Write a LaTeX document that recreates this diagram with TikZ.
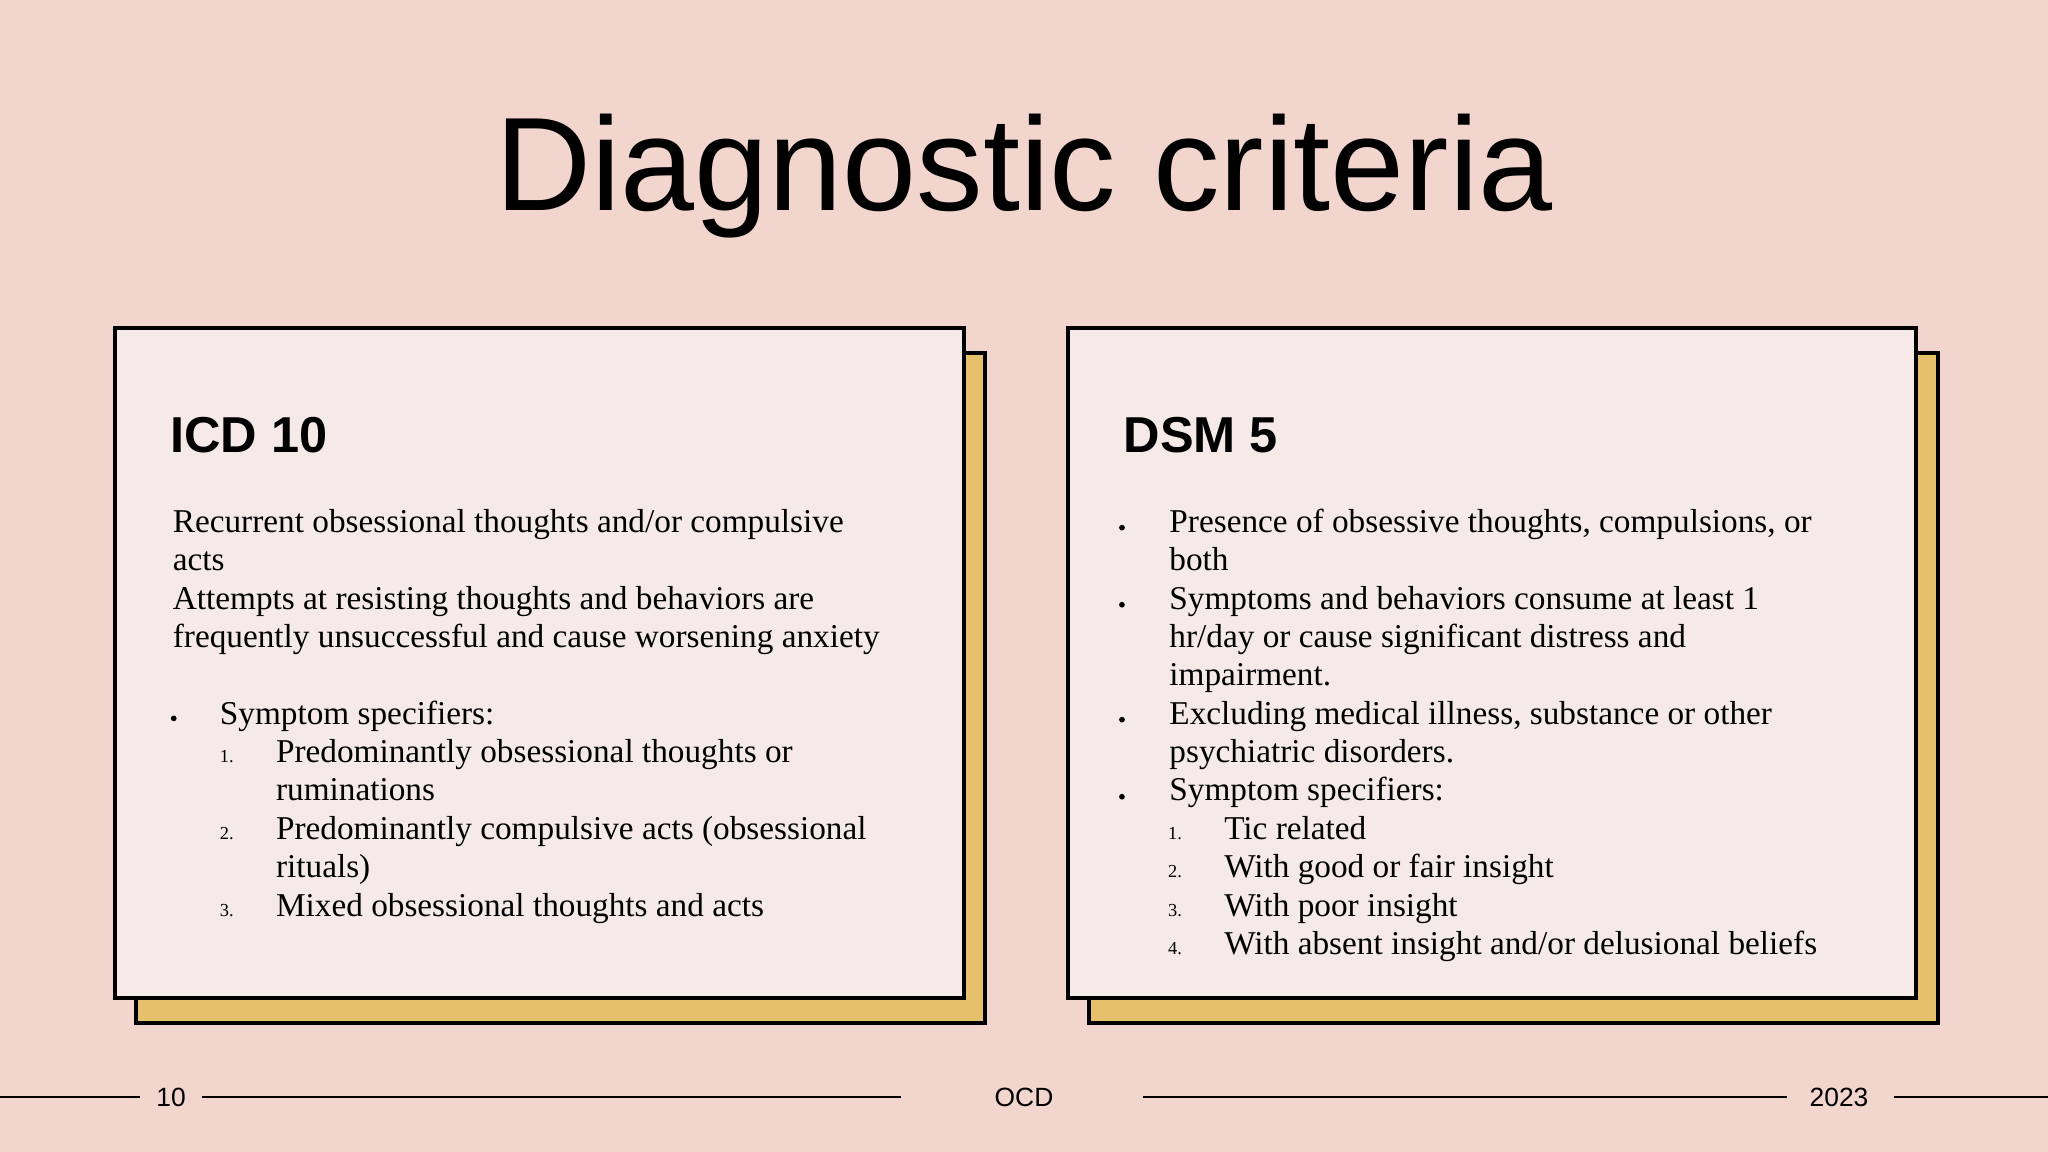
\documentclass[tikz,border=0pt]{standalone}
\usepackage{fontspec}
\setmainfont{Liberation Serif}
\newfontfamily\hsans{Liberation Sans}
\definecolor{bg}{HTML}{F2D5CD}
\definecolor{card}{HTML}{F5EAE7}
\definecolor{gold}{HTML}{E6C06A}
\tikzset{
 shadowbox/.style={fill=gold,draw=black,line width=1.7pt},
 cardbox/.style={fill=card,draw=black,line width=1.7pt},
 bodyline/.style={anchor=base west,inner sep=0pt,font=\fontsize{14.5}{17}\selectfont},
 numtxt/.style={anchor=base west,inner sep=0pt,font=\fontsize{8}{9}\selectfont},
 bul/.style={circle,fill=black,inner sep=0pt,minimum size=2.5pt},
 head/.style={anchor=west,inner sep=0pt,font=\hsans\bfseries\fontsize{22}{26}\selectfont},
 foot/.style={inner sep=0pt,font=\hsans\fontsize{11.5}{13}\selectfont},
 rule/.style={line width=0.8pt}
}
\begin{document}
\begin{tikzpicture}[x=0.02cm,y=-0.02cm]
\fill[bg] (0,0) rectangle (1568,882);
\useasboundingbox (0,0) rectangle (1568,882);
\node[inner sep=0pt,font=\hsans\fontsize{58}{64}\selectfont] (title) at (784,135) {Diagnostic criteria};
% boxes
\draw[shadowbox] (104,270) rectangle (754,783);
\draw[cardbox] (88,251) rectangle (738,764);
\draw[shadowbox] (834,270) rectangle (1484,783);
\draw[cardbox] (818,251) rectangle (1467,764);
% left
\node[head] (h1) at (130,333) {ICD 10};
\node[bodyline] (l1) at (132,408) {Recurrent obsessional thoughts and/or compulsive};
\node[bodyline] (l2) at (132,437) {acts};
\node[bodyline] (l3) at (132,467) {Attempts at resisting thoughts and behaviors are};
\node[bodyline] (l4) at (132,496) {frequently unsuccessful and cause worsening anxiety};
\node[bul] (b1) at (133,550) {};
\node[bodyline] (l5) at (168,555) {Symptom specifiers:};
\node[numtxt] (n1) at (168,584) {1.};
\node[bodyline] (l6) at (211,584) {Predominantly obsessional thoughts or};
\node[bodyline] (l7) at (211,613) {ruminations};
\node[numtxt] (n2) at (168,643) {2.};
\node[bodyline] (l8) at (211,643) {Predominantly compulsive acts (obsessional};
\node[bodyline] (l9) at (211,672) {rituals)};
\node[numtxt] (n3) at (168,702) {3.};
\node[bodyline] (l10) at (211,702) {Mixed obsessional thoughts and acts};
% right
\node[head] (h2) at (860,333) {DSM 5};
\node[bul] (c1) at (859,404) {};
\node[bodyline] (r1) at (895,408) {Presence of obsessive thoughts, compulsions, or};
\node[bodyline] (r2) at (895,437) {both};
\node[bul] (c2) at (859,463) {};
\node[bodyline] (r3) at (895,467) {Symptoms and behaviors consume at least 1};
\node[bodyline] (r4) at (895,496) {hr/day or cause significant distress and};
\node[bodyline] (r5) at (895,525) {impairment.};
\node[bul] (c3) at (859,551) {};
\node[bodyline] (r6) at (895,555) {Excluding medical illness, substance or other};
\node[bodyline] (r7) at (895,584) {psychiatric disorders.};
\node[bul] (c4) at (859,610) {};
\node[bodyline] (r8) at (895,613) {Symptom specifiers:};
\node[numtxt] (m1) at (894,643) {1.};
\node[bodyline] (r9) at (937,643) {Tic related};
\node[numtxt] (m2) at (894,672) {2.};
\node[bodyline] (r10) at (937,672) {With good or fair insight};
\node[numtxt] (m3) at (894,702) {3.};
\node[bodyline] (r11) at (937,702) {With poor insight};
\node[numtxt] (m4) at (894,731) {4.};
\node[bodyline] (r12) at (937,731) {With absent insight and/or delusional beliefs};
% footer
\node[foot] (f1) at (131,840) {10};
\node[foot] (f2) at (784,840) {OCD};
\node[foot] (f3) at (1408,840) {2023};
\coordinate (e0) at (0,840);
\coordinate (e1) at (107,840);
\coordinate (e2) at (155,840);
\coordinate (e3) at (690,840);
\coordinate (e4) at (875,840);
\coordinate (e5) at (1368,840);
\coordinate (e6) at (1450,840);
\coordinate (e7) at (1568,840);
\draw[rule] (e0) -- (e1);
\draw[rule] (e2) -- (e3);
\draw[rule] (e4) -- (e5);
\draw[rule] (e6) -- (e7);
\end{tikzpicture}
\end{document}
